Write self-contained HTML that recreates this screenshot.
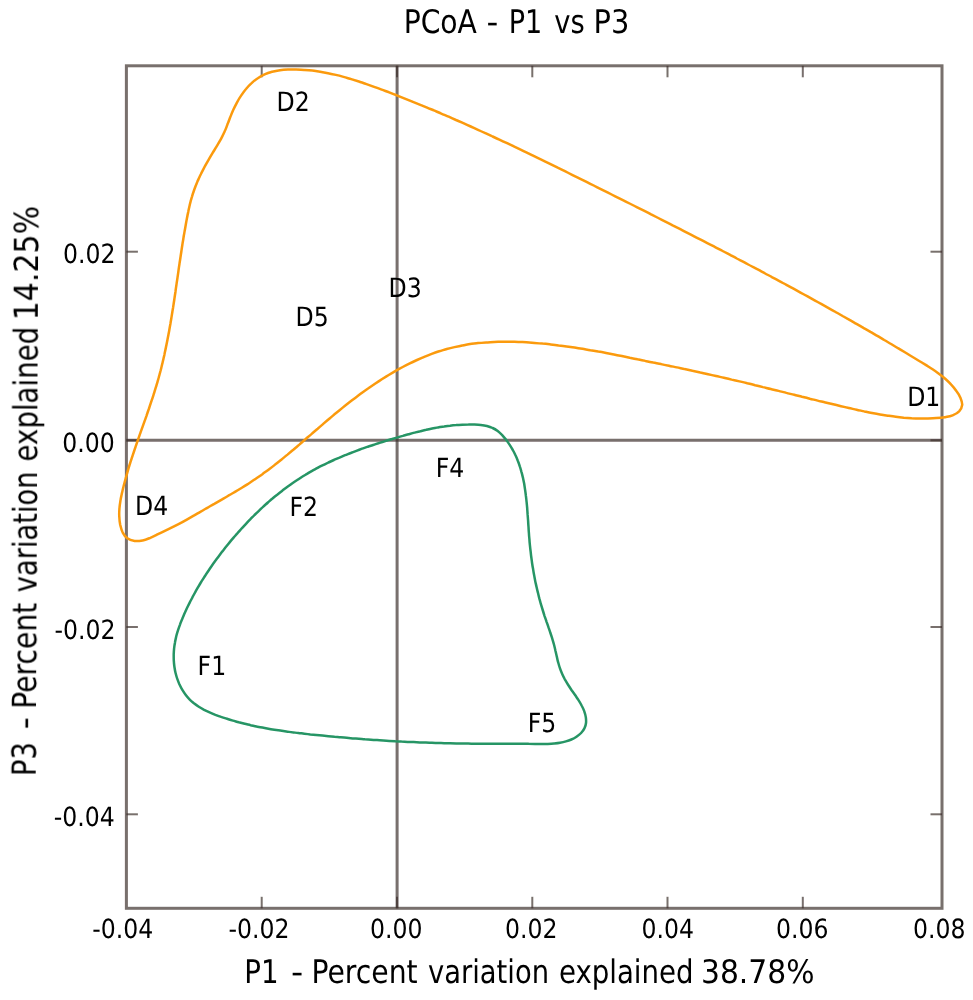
<!DOCTYPE html>
<html lang="en"><head><meta charset="utf-8"><title>PCoA - P1 vs P3</title>
<style>
html,body{margin:0;padding:0;background:#fff;}
body{width:973px;height:1000px;overflow:hidden;}
svg{display:block;}
svg text{font-family:"DejaVu Sans","Liberation Sans",sans-serif;fill:#000;text-rendering:geometricPrecision;}
</style></head><body>
<svg width="973" height="1000" viewBox="0 0 973 1000">
<defs><filter id="soft" x="0" y="0" width="973" height="1000" filterUnits="userSpaceOnUse"><feGaussianBlur stdDeviation="0.45"/></filter></defs>
<rect width="973" height="1000" fill="#fff"/>
<g filter="url(#soft)">
<rect x="126.4" y="65.8" width="815.6" height="842.5" fill="none" stroke="rgba(62,50,46,0.70)" stroke-width="3"/>
<line x1="397.1" y1="65.8" x2="397.1" y2="908.3" stroke="rgba(62,50,46,0.70)" stroke-width="3"/>
<line x1="126.4" y1="440.3" x2="942.0" y2="440.3" stroke="rgba(62,50,46,0.70)" stroke-width="3"/>
<line x1="261.7" y1="65.8" x2="261.7" y2="77.3" stroke="rgba(62,50,46,0.70)" stroke-width="2"/>
<line x1="261.7" y1="908.3" x2="261.7" y2="896.8" stroke="rgba(62,50,46,0.70)" stroke-width="2"/>
<line x1="397.0" y1="65.8" x2="397.0" y2="77.3" stroke="rgba(62,50,46,0.70)" stroke-width="2"/>
<line x1="397.0" y1="908.3" x2="397.0" y2="896.8" stroke="rgba(62,50,46,0.70)" stroke-width="2"/>
<line x1="532.3" y1="65.8" x2="532.3" y2="77.3" stroke="rgba(62,50,46,0.70)" stroke-width="2"/>
<line x1="532.3" y1="908.3" x2="532.3" y2="896.8" stroke="rgba(62,50,46,0.70)" stroke-width="2"/>
<line x1="667.5" y1="65.8" x2="667.5" y2="77.3" stroke="rgba(62,50,46,0.70)" stroke-width="2"/>
<line x1="667.5" y1="908.3" x2="667.5" y2="896.8" stroke="rgba(62,50,46,0.70)" stroke-width="2"/>
<line x1="802.8" y1="65.8" x2="802.8" y2="77.3" stroke="rgba(62,50,46,0.70)" stroke-width="2"/>
<line x1="802.8" y1="908.3" x2="802.8" y2="896.8" stroke="rgba(62,50,46,0.70)" stroke-width="2"/>
<line x1="126.4" y1="251.7" x2="137.9" y2="251.7" stroke="rgba(62,50,46,0.70)" stroke-width="2"/>
<line x1="942.0" y1="251.7" x2="930.5" y2="251.7" stroke="rgba(62,50,46,0.70)" stroke-width="2"/>
<line x1="126.4" y1="440.3" x2="137.9" y2="440.3" stroke="rgba(62,50,46,0.70)" stroke-width="2"/>
<line x1="942.0" y1="440.3" x2="930.5" y2="440.3" stroke="rgba(62,50,46,0.70)" stroke-width="2"/>
<line x1="126.4" y1="627" x2="137.9" y2="627" stroke="rgba(62,50,46,0.70)" stroke-width="2"/>
<line x1="942.0" y1="627" x2="930.5" y2="627" stroke="rgba(62,50,46,0.70)" stroke-width="2"/>
<line x1="126.4" y1="814.3" x2="137.9" y2="814.3" stroke="rgba(62,50,46,0.70)" stroke-width="2"/>
<line x1="942.0" y1="814.3" x2="930.5" y2="814.3" stroke="rgba(62,50,46,0.70)" stroke-width="2"/>
<path d="M296.1 69.5C293.4 69.5 290.6 69.5 287.9 69.6C285.2 69.7 282.5 69.9 279.9 70.3C277.2 70.7 274.6 71.2 272.1 71.8C269.5 72.5 267.0 73.3 264.6 74.4C262.3 75.4 260.0 76.7 257.8 78.2C255.6 79.6 253.5 81.3 251.6 83.1C249.6 84.9 247.7 86.9 246.0 89.0C244.2 91.1 242.6 93.4 241.1 95.6C239.5 97.9 238.1 100.3 236.8 102.8C235.5 105.2 234.3 107.7 233.2 110.1C232.1 112.6 231.1 115.1 230.1 117.5C229.2 120.0 228.3 122.4 227.3 124.8C226.4 127.3 225.5 129.7 224.4 132.1C223.3 134.5 222.1 136.8 220.9 139.2C219.6 141.5 218.2 143.8 216.8 146.1C215.4 148.5 213.9 150.8 212.5 153.1C211.1 155.4 209.7 157.8 208.4 160.1C207.0 162.5 205.7 164.8 204.4 167.2C203.2 169.6 201.9 171.9 200.8 174.3C199.6 176.7 198.5 179.2 197.4 181.6C196.4 184.1 195.4 186.5 194.5 189.0C193.6 191.5 192.7 194.0 192.0 196.6C191.2 199.1 190.5 201.7 189.9 204.3C189.3 206.9 188.7 209.5 188.2 212.1C187.6 214.7 187.1 217.4 186.6 220.0C186.1 222.6 185.7 225.3 185.2 227.9C184.7 230.5 184.3 233.2 183.8 235.8C183.4 238.5 183.0 241.1 182.5 243.8C182.1 246.4 181.7 249.1 181.3 251.7C180.9 254.4 180.5 257.0 180.1 259.7C179.7 262.3 179.3 265.0 178.9 267.6C178.5 270.3 178.2 272.9 177.8 275.6C177.4 278.3 177.0 280.9 176.6 283.6C176.2 286.2 175.8 288.9 175.5 291.5C175.1 294.2 174.7 296.8 174.3 299.5C173.9 302.1 173.5 304.8 173.1 307.4C172.6 310.1 172.2 312.7 171.8 315.4C171.4 318.0 170.9 320.6 170.5 323.3C170.0 325.9 169.6 328.5 169.1 331.2C168.6 333.8 168.1 336.4 167.6 339.0C167.1 341.7 166.6 344.3 166.0 346.9C165.5 349.5 164.9 352.1 164.4 354.7C163.8 357.3 163.2 359.9 162.6 362.5C162.0 365.1 161.3 367.7 160.7 370.2C160.0 372.8 159.3 375.4 158.6 378.0C157.9 380.5 157.1 383.1 156.4 385.6C155.6 388.2 154.8 390.7 154.0 393.3C153.2 395.8 152.4 398.4 151.5 400.9C150.7 403.4 149.8 406.0 149.0 408.5C148.1 411.0 147.2 413.5 146.4 416.1C145.5 418.6 144.6 421.1 143.7 423.6C142.8 426.2 141.9 428.7 141.0 431.2C140.1 433.8 139.2 436.3 138.3 438.8C137.4 441.4 136.6 443.9 135.7 446.4C134.8 449.0 134.0 451.5 133.1 454.1C132.3 456.6 131.4 459.2 130.6 461.7C129.8 464.3 129.0 466.9 128.2 469.4C127.5 472.0 126.7 474.6 126.0 477.2C125.3 479.8 124.6 482.4 123.9 485.0C123.2 487.6 122.6 490.3 122.0 492.9C121.4 495.6 120.8 498.2 120.4 500.9C120.0 503.5 119.6 506.2 119.4 508.8C119.2 511.5 119.1 514.1 119.3 516.8C119.4 519.4 119.7 522.1 120.2 524.7C120.8 527.2 121.5 530.0 122.6 532.3C123.8 534.6 125.3 536.8 127.3 538.3C129.2 539.7 132.0 540.5 134.6 540.9C137.1 541.3 139.9 540.9 142.6 540.4C145.2 539.9 147.8 538.8 150.4 537.8C153.0 536.8 155.6 535.4 158.0 534.2C160.5 533.0 163.0 531.8 165.4 530.6C167.8 529.5 170.1 528.4 172.5 527.2C174.8 526.0 177.1 524.8 179.5 523.6C181.8 522.4 184.1 521.1 186.4 519.8C188.7 518.5 191.0 517.2 193.3 515.9C195.7 514.6 198.0 513.2 200.3 511.9C202.6 510.5 204.9 509.2 207.3 507.8C209.6 506.5 211.9 505.1 214.3 503.8C216.6 502.5 219.0 501.1 221.3 499.8C223.7 498.4 226.0 497.1 228.3 495.7C230.7 494.4 233.0 493.0 235.4 491.6C237.7 490.3 240.0 488.9 242.3 487.5C244.6 486.1 246.9 484.6 249.1 483.2C251.4 481.7 253.6 480.3 255.8 478.8C258.0 477.3 260.2 475.7 262.4 474.2C264.5 472.6 266.7 471.1 268.8 469.5C270.9 467.9 273.0 466.3 275.1 464.6C277.2 463.0 279.3 461.3 281.3 459.7C283.4 458.0 285.4 456.3 287.5 454.6C289.5 452.9 291.5 451.2 293.6 449.5C295.6 447.8 297.6 446.1 299.6 444.4C301.6 442.6 303.6 440.9 305.6 439.1C307.6 437.4 309.6 435.6 311.7 433.9C313.7 432.2 315.7 430.4 317.7 428.7C319.7 426.9 321.7 425.2 323.8 423.4C325.8 421.7 327.9 419.9 329.9 418.2C332.0 416.5 334.0 414.7 336.1 413.0C338.2 411.3 340.3 409.6 342.4 407.9C344.5 406.2 346.6 404.5 348.8 402.8C350.9 401.2 353.1 399.5 355.2 397.9C357.4 396.2 359.6 394.6 361.7 393.0C363.9 391.4 366.1 389.8 368.4 388.3C370.6 386.7 372.8 385.2 375.0 383.7C377.3 382.2 379.6 380.7 381.8 379.2C384.1 377.8 386.4 376.4 388.7 375.0C391.0 373.6 393.3 372.2 395.6 370.9C398.0 369.6 400.3 368.3 402.7 367.0C405.0 365.8 407.4 364.6 409.8 363.4C412.2 362.2 414.6 361.1 417.0 360.0C419.4 358.9 421.9 357.8 424.3 356.8C426.8 355.8 429.3 354.8 431.7 353.9C434.2 353.0 436.7 352.1 439.2 351.3C441.7 350.5 444.3 349.8 446.8 349.0C449.4 348.3 451.9 347.7 454.5 347.1C457.1 346.5 459.7 345.9 462.3 345.4C464.9 345.0 467.5 344.5 470.1 344.1C472.8 343.8 475.4 343.4 478.1 343.1C480.7 342.8 483.4 342.6 486.1 342.4C488.7 342.2 491.4 342.1 494.1 341.9C496.8 341.8 499.5 341.8 502.2 341.7C504.9 341.7 507.6 341.7 510.3 341.7C513.0 341.8 515.7 341.8 518.4 341.9C521.1 342.0 523.8 342.2 526.5 342.3C529.2 342.5 531.9 342.7 534.5 342.9C537.2 343.1 539.9 343.3 542.6 343.6C545.3 343.8 547.9 344.1 550.6 344.4C553.3 344.7 555.9 345.0 558.6 345.4C561.3 345.7 563.9 346.0 566.6 346.4C569.2 346.8 571.9 347.2 574.5 347.6C577.1 348.0 579.8 348.4 582.4 348.8C585.1 349.3 587.7 349.7 590.3 350.2C593.0 350.6 595.6 351.1 598.2 351.6C600.8 352.0 603.5 352.5 606.1 353.0C608.7 353.5 611.3 354.0 613.9 354.5C616.6 355.1 619.2 355.6 621.8 356.1C624.4 356.6 627.0 357.1 629.7 357.7C632.3 358.2 634.9 358.7 637.5 359.3C640.1 359.8 642.7 360.3 645.4 360.9C648.0 361.4 650.6 361.9 653.2 362.5C655.8 363.0 658.4 363.6 661.1 364.1C663.7 364.7 666.3 365.2 668.9 365.7C671.5 366.3 674.1 366.8 676.8 367.4C679.4 368.0 682.0 368.5 684.6 369.1C687.2 369.6 689.8 370.2 692.4 370.8C695.1 371.3 697.7 371.9 700.3 372.5C702.9 373.0 705.5 373.6 708.1 374.2C710.7 374.8 713.4 375.4 716.0 376.0C718.6 376.6 721.2 377.1 723.8 377.7C726.4 378.3 729.0 378.9 731.6 379.6C734.2 380.2 736.9 380.8 739.5 381.4C742.1 382.0 744.7 382.6 747.3 383.3C749.9 383.9 752.5 384.5 755.1 385.2C757.7 385.8 760.3 386.4 762.9 387.1C765.5 387.7 768.1 388.4 770.8 389.0C773.4 389.6 776.0 390.3 778.6 390.9C781.2 391.6 783.8 392.2 786.4 392.9C789.0 393.5 791.6 394.2 794.2 394.8C796.8 395.5 799.4 396.1 802.0 396.8C804.6 397.4 807.2 398.0 809.8 398.7C812.4 399.3 815.0 400.0 817.6 400.6C820.2 401.2 822.8 401.9 825.4 402.5C828.0 403.1 830.6 403.7 833.2 404.3C835.8 405.0 838.4 405.6 841.0 406.2C843.6 406.8 846.2 407.4 848.8 408.0C851.4 408.6 854.0 409.1 856.6 409.7C859.1 410.3 861.7 410.8 864.3 411.4C866.9 411.9 869.5 412.5 872.1 413.0C874.7 413.5 877.4 414.0 880.0 414.4C882.6 414.9 885.2 415.3 887.8 415.7C890.5 416.1 893.1 416.5 895.7 416.8C898.4 417.1 901.0 417.4 903.7 417.7C906.4 417.9 909.0 418.1 911.7 418.3C914.4 418.4 917.1 418.5 919.8 418.6C922.5 418.6 925.3 418.6 928.0 418.5C930.8 418.4 933.5 418.3 936.3 418.1C939.1 417.9 941.9 417.7 944.7 417.2C947.4 416.7 950.2 416.3 952.6 415.3C955.0 414.3 957.5 413.0 959.1 411.3C960.7 409.5 962.0 407.2 962.2 404.9C962.4 402.7 961.4 400.1 960.4 397.7C959.4 395.3 957.8 392.9 956.2 390.8C954.7 388.6 953.0 386.5 951.2 384.6C949.4 382.6 947.5 380.8 945.5 379.0C943.5 377.2 941.4 375.6 939.2 374.0C937.1 372.4 934.9 370.8 932.6 369.3C930.4 367.8 928.0 366.4 925.7 364.9C923.4 363.5 921.1 362.1 918.8 360.7C916.5 359.3 914.2 357.9 911.8 356.5C909.5 355.1 907.2 353.7 904.9 352.3C902.6 350.9 900.3 349.5 898.0 348.2C895.7 346.8 893.4 345.4 891.1 344.0C888.8 342.7 886.5 341.3 884.2 340.0C881.9 338.6 879.6 337.3 877.3 335.9C875.0 334.6 872.7 333.2 870.4 331.9C868.1 330.5 865.7 329.2 863.4 327.9C861.1 326.5 858.8 325.2 856.5 323.9C854.2 322.6 851.9 321.2 849.5 319.9C847.2 318.6 844.9 317.3 842.6 316.0C840.3 314.6 837.9 313.3 835.6 312.0C833.3 310.7 830.9 309.4 828.6 308.1C826.3 306.8 823.9 305.5 821.6 304.2C819.3 302.9 816.9 301.6 814.6 300.3C812.3 299.0 809.9 297.7 807.6 296.4C805.2 295.1 802.9 293.9 800.5 292.6C798.2 291.3 795.8 290.0 793.5 288.7C791.2 287.5 788.8 286.2 786.4 284.9C784.1 283.6 781.7 282.4 779.4 281.1C777.0 279.8 774.7 278.6 772.3 277.3C770.0 276.0 767.6 274.8 765.2 273.5C762.9 272.2 760.5 271.0 758.2 269.7C755.8 268.5 753.4 267.2 751.1 266.0C748.7 264.7 746.3 263.5 744.0 262.2C741.6 261.0 739.2 259.7 736.8 258.5C734.5 257.2 732.1 256.0 729.7 254.7C727.4 253.5 725.0 252.3 722.6 251.0C720.2 249.8 717.9 248.5 715.5 247.3C713.1 246.1 710.7 244.8 708.3 243.6C706.0 242.4 703.6 241.2 701.2 239.9C698.8 238.7 696.4 237.5 694.1 236.3C691.7 235.0 689.3 233.8 686.9 232.6C684.5 231.4 682.1 230.1 679.8 228.9C677.4 227.7 675.0 226.5 672.6 225.3C670.2 224.0 667.8 222.8 665.4 221.6C663.0 220.4 660.7 219.2 658.3 218.0C655.9 216.8 653.5 215.6 651.1 214.4C648.7 213.1 646.3 211.9 643.9 210.7C641.5 209.5 639.1 208.3 636.7 207.1C634.4 205.9 632.0 204.7 629.6 203.5C627.2 202.3 624.8 201.1 622.4 199.9C620.0 198.7 617.6 197.5 615.2 196.3C612.8 195.1 610.4 193.9 608.0 192.7C605.6 191.5 603.2 190.3 600.8 189.1C598.4 187.9 596.1 186.7 593.7 185.5C591.3 184.3 588.9 183.1 586.5 181.9C584.1 180.7 581.7 179.5 579.3 178.3C576.9 177.1 574.5 176.0 572.1 174.8C569.7 173.6 567.3 172.4 564.9 171.2C562.5 170.0 560.1 168.8 557.7 167.7C555.3 166.5 552.9 165.3 550.5 164.1C548.1 162.9 545.7 161.8 543.3 160.6C540.9 159.4 538.5 158.3 536.1 157.1C533.7 155.9 531.3 154.8 528.9 153.6C526.4 152.4 524.0 151.3 521.6 150.1C519.2 149.0 516.8 147.8 514.4 146.7C512.0 145.5 509.6 144.4 507.1 143.2C504.7 142.1 502.3 141.0 499.9 139.8C497.4 138.7 495.0 137.6 492.6 136.5C490.2 135.3 487.7 134.2 485.3 133.1C482.9 132.0 480.5 130.9 478.0 129.8C475.6 128.7 473.1 127.6 470.7 126.5C468.3 125.4 465.8 124.3 463.4 123.2C460.9 122.1 458.5 121.0 456.0 120.0C453.6 118.9 451.1 117.8 448.7 116.7C446.2 115.7 443.8 114.6 441.3 113.6C438.9 112.5 436.4 111.5 433.9 110.4C431.5 109.4 429.0 108.4 426.5 107.3C424.1 106.3 421.6 105.3 419.1 104.3C416.6 103.3 414.1 102.3 411.7 101.3C409.2 100.3 406.7 99.3 404.2 98.3C401.7 97.3 399.2 96.3 396.7 95.3C394.2 94.4 391.7 93.4 389.2 92.4C386.7 91.5 384.2 90.5 381.7 89.6C379.2 88.7 376.6 87.7 374.1 86.8C371.6 85.9 369.1 85.0 366.5 84.1C364.0 83.2 361.5 82.4 358.9 81.5C356.4 80.7 353.8 79.9 351.2 79.1C348.7 78.4 346.1 77.6 343.5 76.9C341.0 76.2 338.4 75.5 335.8 74.9C333.2 74.3 330.6 73.7 328.0 73.2C325.4 72.7 322.7 72.2 320.1 71.7C317.5 71.3 314.8 70.9 312.2 70.6C309.5 70.3 306.8 70.1 304.2 69.9C301.5 69.7 298.8 69.6 296.1 69.5Z" fill="none" stroke="#FB9A0B" stroke-width="2.5" stroke-linejoin="round"/>
<path d="M397.0 437.6C398.9 437.0 400.9 436.4 402.8 435.9C404.8 435.3 406.7 434.8 408.7 434.2C410.6 433.7 412.6 433.2 414.5 432.6C416.5 432.1 418.4 431.6 420.4 431.2C422.4 430.7 424.3 430.2 426.3 429.8C428.3 429.3 430.2 428.9 432.2 428.5C434.2 428.1 436.2 427.8 438.1 427.4C440.1 427.1 442.1 426.7 444.1 426.5C446.1 426.2 448.1 425.9 450.1 425.7C452.1 425.4 454.2 425.2 456.2 425.1C458.2 424.9 460.2 424.8 462.3 424.7C464.3 424.6 466.4 424.6 468.4 424.6C470.5 424.5 472.5 424.6 474.6 424.6C476.7 424.7 478.8 424.8 480.8 425.0C482.9 425.3 484.9 425.6 486.9 426.0C488.9 426.5 490.8 427.1 492.6 428.0C494.4 428.8 496.1 429.9 497.7 431.1C499.3 432.3 500.8 433.8 502.2 435.2C503.6 436.7 504.9 438.3 506.2 439.9C507.4 441.6 508.6 443.2 509.7 444.9C510.8 446.6 511.8 448.3 512.8 450.0C513.8 451.8 514.7 453.5 515.5 455.3C516.4 457.1 517.1 458.9 517.8 460.8C518.6 462.6 519.2 464.5 519.8 466.4C520.5 468.3 521.0 470.2 521.5 472.1C522.1 474.0 522.5 476.0 523.0 477.9C523.4 479.9 523.8 481.9 524.2 483.8C524.5 485.8 524.8 487.8 525.1 489.9C525.4 491.9 525.7 493.9 525.9 495.9C526.2 498.0 526.4 500.0 526.6 502.0C526.8 504.1 527.0 506.2 527.2 508.2C527.3 510.3 527.5 512.3 527.6 514.4C527.8 516.5 527.9 518.5 528.1 520.6C528.2 522.7 528.3 524.7 528.5 526.8C528.6 528.8 528.7 530.9 528.9 533.0C529.0 535.0 529.2 537.1 529.4 539.1C529.5 541.1 529.7 543.2 529.9 545.2C530.1 547.2 530.3 549.2 530.6 551.2C530.8 553.2 531.0 555.3 531.3 557.2C531.6 559.2 531.8 561.2 532.1 563.2C532.4 565.2 532.7 567.2 533.1 569.1C533.4 571.1 533.7 573.1 534.1 575.0C534.5 577.0 534.8 579.0 535.2 580.9C535.6 582.9 536.1 584.8 536.5 586.8C536.9 588.7 537.4 590.7 537.9 592.6C538.3 594.5 538.8 596.5 539.3 598.4C539.9 600.4 540.4 602.3 540.9 604.2C541.5 606.2 542.1 608.1 542.7 610.0C543.3 612.0 543.9 613.9 544.5 615.8C545.2 617.8 545.9 619.7 546.5 621.6C547.2 623.6 547.9 625.5 548.5 627.4C549.2 629.4 549.9 631.3 550.5 633.3C551.2 635.2 551.8 637.2 552.4 639.1C553.0 641.1 553.6 643.1 554.1 645.0C554.6 647.0 555.1 649.0 555.5 651.0C556.0 653.0 556.4 654.9 556.9 656.9C557.3 658.9 557.7 660.8 558.3 662.8C558.8 664.7 559.3 666.6 560.0 668.4C560.6 670.3 561.4 672.1 562.2 673.9C563.0 675.7 563.9 677.5 564.8 679.3C565.8 681.0 566.8 682.8 567.9 684.5C569.0 686.2 570.1 687.9 571.3 689.7C572.5 691.4 573.7 693.1 574.9 694.8C576.1 696.6 577.3 698.3 578.5 700.1C579.6 701.8 580.7 703.6 581.6 705.5C582.6 707.3 583.5 709.2 584.2 711.1C584.9 713.1 585.5 715.1 585.8 717.1C586.1 719.1 586.2 721.1 586.0 723.0C585.8 724.9 585.3 726.8 584.4 728.4C583.6 730.1 582.4 731.6 581.1 733.0C579.8 734.4 578.1 735.6 576.5 736.7C574.9 737.8 573.2 738.7 571.4 739.5C569.6 740.3 567.8 740.9 565.9 741.4C564.0 742.0 562.0 742.4 560.0 742.7C558.1 743.1 556.0 743.3 554.0 743.5C551.9 743.7 549.8 743.8 547.7 743.9C545.6 743.9 543.5 743.9 541.3 743.9C539.2 743.9 537.1 743.9 535.0 743.9C532.8 743.8 530.7 743.8 528.7 743.8C526.6 743.7 524.5 743.7 522.4 743.7C520.4 743.7 518.3 743.7 516.3 743.7C514.2 743.7 512.2 743.7 510.2 743.7C508.2 743.7 506.2 743.7 504.2 743.7C502.2 743.7 500.2 743.7 498.2 743.7C496.2 743.7 494.2 743.7 492.2 743.7C490.2 743.7 488.2 743.7 486.2 743.7C484.2 743.7 482.2 743.7 480.3 743.7C478.3 743.7 476.3 743.7 474.3 743.7C472.3 743.7 470.3 743.6 468.3 743.6C466.2 743.6 464.2 743.6 462.2 743.5C460.2 743.5 458.2 743.5 456.2 743.4C454.2 743.4 452.2 743.4 450.2 743.3C448.1 743.3 446.1 743.2 444.1 743.2C442.1 743.1 440.1 743.1 438.0 743.0C436.0 743.0 434.0 742.9 432.0 742.8C429.9 742.8 427.9 742.7 425.9 742.6C423.9 742.5 421.8 742.5 419.8 742.4C417.8 742.3 415.8 742.2 413.7 742.1C411.7 742.0 409.7 741.9 407.6 741.9C405.6 741.8 403.6 741.7 401.5 741.6C399.5 741.4 397.5 741.3 395.4 741.2C393.4 741.1 391.4 741.0 389.3 740.9C387.3 740.8 385.3 740.6 383.2 740.5C381.2 740.4 379.2 740.3 377.1 740.1C375.1 740.0 373.1 739.9 371.0 739.7C369.0 739.6 367.0 739.4 364.9 739.3C362.9 739.1 360.9 739.0 358.8 738.8C356.8 738.7 354.8 738.5 352.7 738.4C350.7 738.2 348.7 738.0 346.7 737.8C344.6 737.7 342.6 737.5 340.6 737.3C338.6 737.1 336.5 737.0 334.5 736.8C332.5 736.6 330.5 736.4 328.4 736.2C326.4 736.0 324.4 735.8 322.4 735.6C320.4 735.4 318.3 735.2 316.3 735.0C314.3 734.8 312.3 734.6 310.3 734.4C308.3 734.1 306.3 733.9 304.3 733.7C302.3 733.5 300.3 733.2 298.3 733.0C296.2 732.8 294.2 732.5 292.2 732.3C290.3 732.0 288.3 731.8 286.3 731.5C284.3 731.2 282.3 730.9 280.3 730.6C278.3 730.3 276.3 730.0 274.3 729.7C272.3 729.4 270.3 729.1 268.4 728.7C266.4 728.4 264.4 728.0 262.4 727.6C260.4 727.3 258.5 726.9 256.5 726.5C254.5 726.1 252.5 725.6 250.6 725.2C248.6 724.7 246.6 724.3 244.7 723.8C242.7 723.3 240.7 722.8 238.8 722.3C236.8 721.7 234.9 721.2 232.9 720.6C230.9 720.0 229.0 719.4 227.0 718.8C225.1 718.2 223.1 717.5 221.2 716.9C219.2 716.2 217.3 715.5 215.4 714.8C213.4 714.0 211.5 713.2 209.6 712.4C207.8 711.6 205.9 710.7 204.1 709.8C202.3 708.8 200.5 707.8 198.8 706.7C197.2 705.7 195.5 704.5 193.9 703.3C192.4 702.0 190.9 700.7 189.5 699.3C188.1 697.9 186.8 696.4 185.6 694.8C184.4 693.2 183.3 691.5 182.2 689.7C181.2 688.0 180.3 686.2 179.4 684.3C178.6 682.4 177.9 680.5 177.2 678.6C176.5 676.6 176.0 674.7 175.5 672.7C175.0 670.7 174.7 668.7 174.4 666.7C174.1 664.6 173.9 662.6 173.8 660.6C173.7 658.6 173.7 656.5 173.7 654.5C173.8 652.5 173.9 650.4 174.1 648.4C174.3 646.4 174.6 644.4 175.0 642.4C175.3 640.4 175.8 638.4 176.2 636.5C176.7 634.5 177.3 632.6 177.9 630.6C178.5 628.7 179.2 626.8 179.9 624.8C180.5 622.9 181.3 621.0 182.1 619.2C182.8 617.3 183.7 615.4 184.5 613.5C185.3 611.7 186.2 609.8 187.0 608.0C187.9 606.2 188.8 604.4 189.7 602.6C190.6 600.7 191.6 599.0 192.5 597.2C193.5 595.4 194.4 593.6 195.4 591.8C196.4 590.1 197.4 588.3 198.4 586.6C199.4 584.9 200.5 583.1 201.5 581.4C202.6 579.7 203.7 578.0 204.8 576.3C205.8 574.6 206.9 572.9 208.1 571.2C209.2 569.6 210.3 567.9 211.5 566.2C212.6 564.6 213.8 562.9 215.0 561.3C216.2 559.7 217.4 558.0 218.6 556.4C219.8 554.8 221.0 553.2 222.2 551.6C223.5 550.0 224.7 548.4 226.0 546.8C227.3 545.2 228.5 543.7 229.8 542.1C231.1 540.5 232.4 539.0 233.8 537.4C235.1 535.9 236.4 534.3 237.8 532.8C239.1 531.3 240.5 529.8 241.8 528.3C243.2 526.8 244.6 525.3 246.0 523.8C247.4 522.3 248.8 520.8 250.2 519.4C251.6 517.9 253.1 516.5 254.5 515.0C255.9 513.6 257.4 512.2 258.9 510.8C260.4 509.4 261.8 508.0 263.3 506.6C264.8 505.2 266.4 503.9 267.9 502.5C269.4 501.2 270.9 499.8 272.5 498.5C274.0 497.2 275.6 495.9 277.2 494.7C278.8 493.4 280.4 492.1 282.0 490.9C283.6 489.7 285.2 488.4 286.8 487.2C288.4 486.0 290.1 484.9 291.7 483.7C293.4 482.5 295.1 481.4 296.8 480.3C298.4 479.2 300.1 478.1 301.8 477.0C303.5 475.9 305.3 474.9 307.0 473.9C308.7 472.8 310.5 471.8 312.2 470.8C314.0 469.8 315.8 468.9 317.6 467.9C319.3 467.0 321.1 466.1 323.0 465.2C324.8 464.3 326.6 463.4 328.4 462.5C330.2 461.7 332.1 460.8 333.9 460.0C335.7 459.2 337.6 458.3 339.5 457.6C341.3 456.8 343.2 456.0 345.1 455.2C347.0 454.5 348.8 453.7 350.7 453.0C352.6 452.2 354.5 451.5 356.4 450.8C358.3 450.1 360.2 449.4 362.1 448.7C364.1 448.0 366.0 447.4 367.9 446.7C369.8 446.1 371.8 445.4 373.7 444.8C375.6 444.1 377.6 443.5 379.5 442.9C381.4 442.3 383.4 441.7 385.3 441.1C387.3 440.5 389.2 439.9 391.1 439.3C393.1 438.7 395.0 438.1 397.0 437.6Z" fill="none" stroke="#279565" stroke-width="2.5" stroke-linejoin="round"/>
</g>
<g filter="url(#soft)">
<text transform="translate(0,32.80)" font-size="32.50"><tspan x="403.63" textLength="73.31" lengthAdjust="spacingAndGlyphs">PCoA</tspan> <tspan x="486.42" textLength="11.80" lengthAdjust="spacingAndGlyphs">-</tspan> <tspan x="508.65" textLength="33.52" lengthAdjust="spacingAndGlyphs">P1</tspan> <tspan x="554.23" textLength="30.47" lengthAdjust="spacingAndGlyphs">vs</tspan> <tspan x="593.56" textLength="35.78" lengthAdjust="spacingAndGlyphs">P3</tspan></text>
<text transform="translate(0,982.50)" font-size="32.50"><tspan x="244.28" textLength="34.35" lengthAdjust="spacingAndGlyphs">P1</tspan> <tspan x="290.96" textLength="12.22" lengthAdjust="spacingAndGlyphs">-</tspan> <tspan x="311.43" textLength="106.27" lengthAdjust="spacingAndGlyphs">Percent</tspan> <tspan x="428.03" textLength="120.96" lengthAdjust="spacingAndGlyphs">variation</tspan> <tspan x="558.89" textLength="134.65" lengthAdjust="spacingAndGlyphs">explained</tspan> <tspan x="700.97" textLength="113.56" lengthAdjust="spacingAndGlyphs">38.78%</tspan></text>
<text transform="translate(35.70,773.60) rotate(-89.74)" font-size="33.40"><tspan x="-2.50" textLength="34.02" lengthAdjust="spacingAndGlyphs">P3</tspan> <tspan x="44.16" textLength="12.22" lengthAdjust="spacingAndGlyphs">-</tspan> <tspan x="64.63" textLength="106.27" lengthAdjust="spacingAndGlyphs">Percent</tspan> <tspan x="181.23" textLength="120.96" lengthAdjust="spacingAndGlyphs">variation</tspan> <tspan x="312.09" textLength="134.65" lengthAdjust="spacingAndGlyphs">explained</tspan> <tspan x="453.25" textLength="114.50" lengthAdjust="spacingAndGlyphs">14.25%</tspan></text>
<text transform="translate(92.13,937.60) scale(0.8900,1)" font-size="26.50">-0.04</text>
<text transform="translate(228.40,937.60) scale(0.8900,1)" font-size="26.50">-0.02</text>
<text transform="translate(370.10,937.60) scale(0.8900,1)" font-size="26.50">0.00</text>
<text transform="translate(505.11,937.60) scale(0.8900,1)" font-size="26.50">0.02</text>
<text transform="translate(641.58,937.60) scale(0.8900,1)" font-size="26.50">0.04</text>
<text transform="translate(776.10,937.60) scale(0.8900,1)" font-size="26.50">0.06</text>
<text transform="translate(913.00,937.60) scale(0.8900,1)" font-size="26.50">0.08</text>
<text transform="translate(63.06,262.80) scale(0.8900,1)" font-size="26.50">0.02</text>
<text transform="translate(62.36,451.70) scale(0.8900,1)" font-size="26.50">0.00</text>
<text transform="translate(54.57,638.90) scale(0.8900,1)" font-size="26.50">-0.02</text>
<text transform="translate(53.63,826.30) scale(0.8900,1)" font-size="26.50">-0.04</text>
<text transform="translate(276.47,110.80) scale(0.8900,1)" font-size="26.50">D2</text>
<text transform="translate(295.55,326.40) scale(0.8900,1)" font-size="26.50">D5</text>
<text transform="translate(135.00,515.30) scale(0.8900,1)" font-size="26.50">D4</text>
<text transform="translate(289.48,515.50) scale(0.8900,1)" font-size="26.50">F2</text>
<text transform="translate(197.61,675.10) scale(0.8900,1)" font-size="26.50">F1</text>
<text transform="translate(527.76,732.00) scale(0.8900,1)" font-size="26.50">F5</text>
<text transform="translate(435.74,477.00) scale(0.8900,1)" font-size="26.50">F4</text>
<text transform="translate(388.54,297.20) scale(0.8900,1)" font-size="26.50">D3</text>
<text transform="translate(907.17,405.50) scale(0.8900,1)" font-size="26.50">D1</text>
</g>
</svg>
</body></html>
